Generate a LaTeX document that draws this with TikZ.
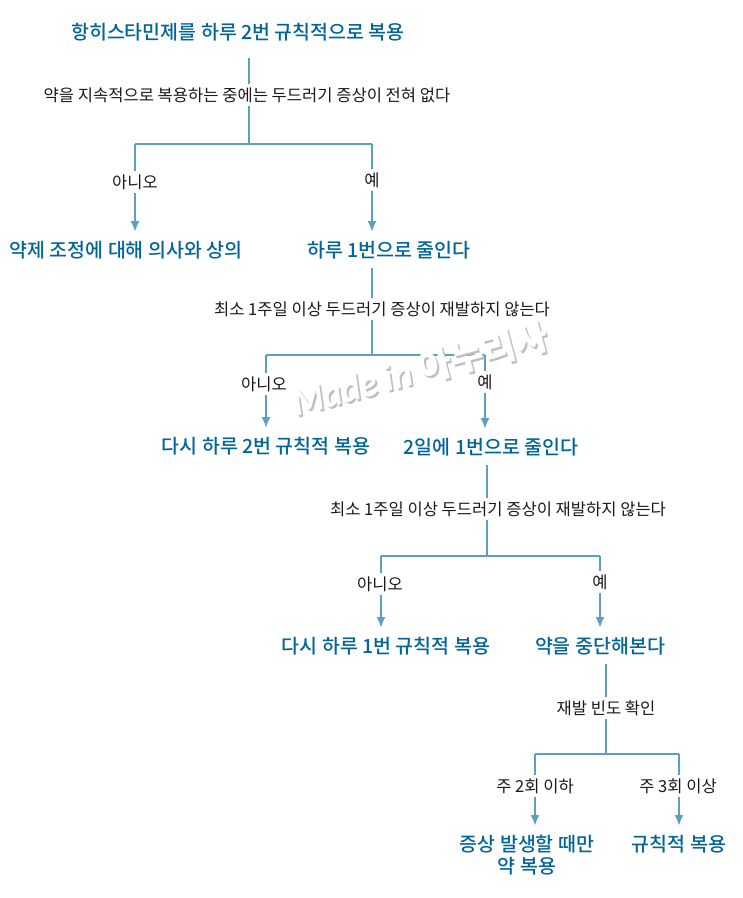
\documentclass[tikz,border=0pt]{standalone}
\usepackage{fontspec}
\setmainfont{Noto Sans CJK KR}
\newfontfamily\markfont{Lato}
\newfontfamily\stepfont{Noto Sans CJK KR Medium}
\usepackage{xcolor}
\usetikzlibrary{arrows.meta}
\definecolor{flow-blue}{HTML}{00659B}
\definecolor{flow-line}{HTML}{5B9FC2}
\definecolor{flow-text}{HTML}{1A1A1A}
\tikzset{
    step box/.style={color=flow-blue, font=\stepfont\fontsize{19.5}{22}\selectfont, align=center, inner sep=2pt, outer ysep=7pt},
    ask box/.style={color=flow-text, font=\fontsize{16.55}{19}\selectfont, inner sep=3pt},
    link/.style={draw=flow-line, line width=2.5pt},
    link arrow/.style={link, -{Latex[length=11pt, width=9pt]}},
    water/.style={font=\markfont\itshape\bfseries\fontsize{36}{40}\selectfont, rotate=15, inner sep=0pt}
}

\begin{document}
\begin{tikzpicture}[x=1pt, y=-1pt]

    \useasboundingbox (0,0) rectangle (743,898);

    % steps
    \begin{scope}[every node/.style={step box}]
        \node[outer ysep=15pt] (start) at (238,32) {항히스타민제를 하루 2번 규칙적으로 복용};
        \node (consult) at (126,250) {약제 조정에 대해 의사와 상의};
        \node (once) at (389,250) {하루 1번으로 줄인다};
        \node (twice) at (266,446) {다시 하루 2번 규칙적 복용};
        \node (alternate) at (491,447) {2일에 1번으로 줄인다};
        \node (daily) at (386,646) {다시 하루 1번 규칙적 복용};
        \node (stop) at (600,646) {약을 중단해본다};
        \node (onsymptom) at (527,855) {증상 발생할 때만\\약 복용};
        \node (regular) at (679,844) {규칙적 복용};
    \end{scope}

    % junctions
    \coordinate (j1) at (249,144);
    \coordinate (j1l) at (135,144);
    \coordinate (j1r) at (372,144);
    \coordinate (j2) at (372,355);
    \coordinate (j2l) at (266,355);
    \coordinate (j2r) at (485,355);
    \coordinate (j3) at (487,556);
    \coordinate (j3l) at (381,556);
    \coordinate (j3r) at (600,556);
    \coordinate (j4) at (606,754);
    \coordinate (j4l) at (535,754);
    \coordinate (j4r) at (679,754);

    % questions and answers
    \begin{scope}[every node/.style={ask box}]
        \node (q1) at (247,95) {약을 지속적으로 복용하는 중에는 두드러기 증상이 전혀 없다};
        \node (no1) at (135,182) {아니오};
        \node (yes1) at (372,180) {예};
        \node (q2) at (382,309) {최소 1주일 이상 두드러기 증상이 재발하지 않는다};
        \node (no2) at (264,384) {아니오};
        \node (yes2) at (485,382) {예};
        \node (q3) at (498,509) {최소 1주일 이상 두드러기 증상이 재발하지 않는다};
        \node (no3) at (380,584) {아니오};
        \node (yes3) at (600,582) {예};
        \node (q4) at (606,708) {재발 빈도 확인};
        \node (no4) at (535,786) {주 2회 이하};
        \node (yes4) at (678,786) {주 3회 이상};
    \end{scope}

    % first decision
    \draw[link] (j1 |- start.south) -- (j1 |- q1.north);
    \draw[link] (j1 |- q1.south) -- (j1);
    \draw[link] (j1l) -- (j1r);
    \draw[link] (j1l) -- (j1l |- no1.north);
    \draw[link] (j1r) -- (j1r |- yes1.north);
    \draw[link arrow] (j1l |- no1.south) -- (j1l |- consult.north);
    \draw[link arrow] (j1r |- yes1.south) -- (j1r |- once.north);

    % second decision
    \draw[link] (j2 |- once.south) -- (j2 |- q2.north);
    \draw[link] (j2 |- q2.south) -- (j2);
    \draw[link] (j2l) -- (j2r);
    \draw[link] (j2l) -- (j2l |- no2.north);
    \draw[link] (j2r) -- (j2r |- yes2.north);
    \draw[link arrow] (j2l |- no2.south) -- (j2l |- twice.north);
    \draw[link arrow] (j2r |- yes2.south) -- (j2r |- alternate.north);

    % third decision
    \draw[link] (j3 |- alternate.south) -- (j3 |- q3.north);
    \draw[link] (j3 |- q3.south) -- (j3);
    \draw[link] (j3l) -- (j3r);
    \draw[link] (j3l) -- (j3l |- no3.north);
    \draw[link] (j3r) -- (j3r |- yes3.north);
    \draw[link arrow] (j3l |- no3.south) -- (j3l |- daily.north);
    \draw[link arrow] (j3r |- yes3.south) -- (j3r |- stop.north);

    % frequency check
    \draw[link] (j4 |- stop.south) -- (j4 |- q4.north);
    \draw[link] (j4 |- q4.south) -- (j4);
    \draw[link] (j4l) -- (j4r);
    \draw[link] (j4l) -- (j4l |- no4.north);
    \draw[link] (j4r) -- (j4r |- yes4.north);
    \draw[link arrow] (j4l |- no4.south) -- (j4l |- onsymptom.north);
    \draw[link arrow] (j4r |- yes4.south) -- (j4r |- regular.north);

    % watermark
    \node[water, color=black!25] (markshadow) at (422,371) {Made in {\rmfamily 아누리사}};
    \node[water, color=white] (mark) at (420,369) {Made in {\rmfamily 아누리사}};

\end{tikzpicture}
\end{document}
